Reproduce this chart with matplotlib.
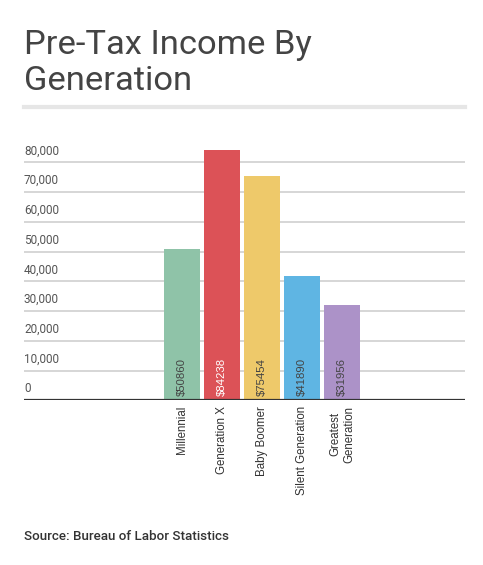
import matplotlib
matplotlib.use("Agg")
import matplotlib.pyplot as plt
from matplotlib.lines import Line2D

categories = ["Millennial", "Generation X", "Baby Boomer", "Silent Generation", "Greatest\nGeneration"]
values = [50860, 84238, 75454, 41890, 31956]
value_labels = ["$50860", "$84238", "$75454", "$41890", "$31956"]
colors = ["#8fc3a8", "#dc5257", "#eec96a", "#5fb5e3", "#ac92c8"]
label_colors = ["#444444", "#ffffff", "#444444", "#444444", "#444444"]
yticks = [0, 10000, 20000, 30000, 40000, 50000, 60000, 70000, 80000]

plt.rcParams['font.family'] = ['Roboto', 'DejaVu Sans']
ARIAL = ['Liberation Sans', 'DejaVu Sans']

W, H = 483, 565
fig = plt.figure(figsize=(W / 100, H / 100), dpi=100)

def fx(px):
    return px / W

def fy(py):
    return 1 - py / H

ax_left, ax_right = 24, 465
ax_bottom = 400.3
px_per_unit = 29.75 / 10000
ymax = 90000
ax = fig.add_axes([fx(ax_left), fy(ax_bottom), fx(ax_right - ax_left), ymax * px_per_unit / H])
ax.set_ylim(0, ymax)
# category centres 40 px apart, first centre at x=182
step = 40.0
ax.set_xlim((ax_left - 182) / step, (ax_right - 182) / step)

for s in ax.spines.values():
    s.set_visible(False)
ax.set_xticks([])
ax.set_yticks([])

for t in yticks:
    if t > 0:
        ax.axhline(t, color="#cccccc", lw=1.1, zorder=0)
    ax.annotate(f"{t:,}", xy=(0, t), xycoords=("axes fraction", "data"),
                xytext=(0, 3.5), textcoords="offset points", ha="left", va="bottom",
                fontsize=8.5, color="#555555")

x = list(range(len(categories)))
ax.bar(x, values, width=0.9, color=colors, zorder=2)
ax.axhline(0, color="#333333", lw=1.6, zorder=3)

for i, (lab, c) in enumerate(zip(value_labels, label_colors)):
    ax.annotate(lab, xy=(i, 0), xytext=(0, 3), textcoords="offset points",
                rotation=90, ha="center", va="bottom", fontsize=8.2, color=c, zorder=4,
                family=ARIAL)

for i, cat in enumerate(categories):
    ax.annotate(cat, xy=(i, 0), xytext=(0, -4), textcoords="offset points",
                rotation=90, ha="center", va="top", fontsize=8.3, color="#333333",
                multialignment="center", family=ARIAL)

fig.text(fx(24), fy(54), "Pre-Tax Income By", fontsize=24.8, color="#444444",
         ha="left", va="baseline")
fig.text(fx(24), fy(90), "Generation", fontsize=24.8, color="#444444",
         ha="left", va="baseline")
fig.add_artist(Line2D([fx(24), fx(465)], [fy(107), fy(107)], transform=fig.transFigure,
                      color="#e6e6e6", lw=3))

fig.text(fx(24), fy(540), "Source: Bureau of Labor Statistics", fontsize=9.6,
         fontweight="medium", color="#333333", ha="left", va="baseline")

fig.savefig("out.png", dpi=100)
